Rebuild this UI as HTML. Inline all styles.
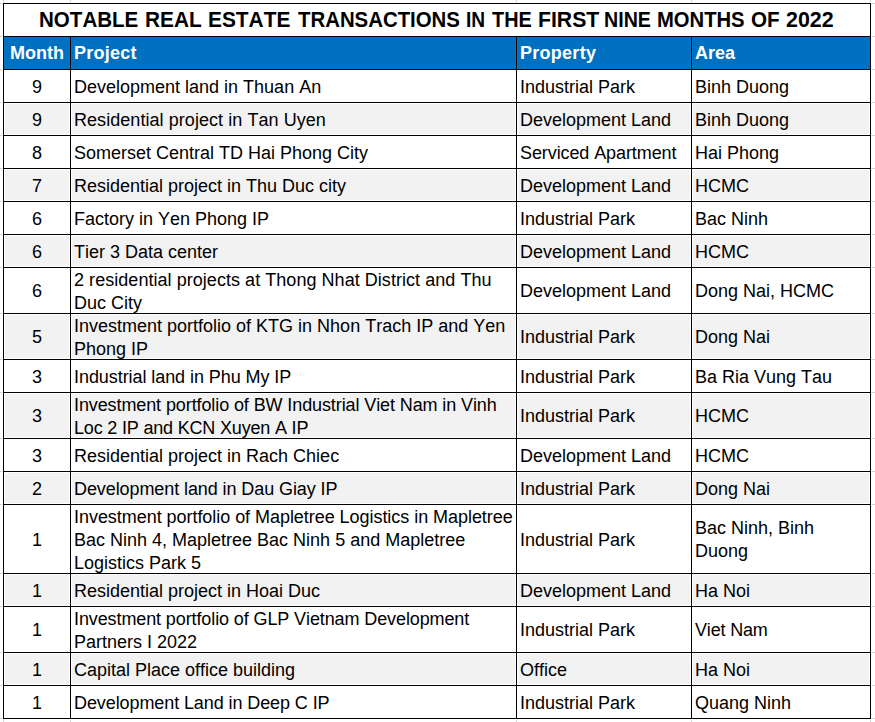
<!DOCTYPE html>
<html><head><meta charset="utf-8"><title>Notable real estate transactions</title>
<style>
*{margin:0;padding:0;box-sizing:border-box}
html,body{width:875px;height:722px;overflow:hidden;background:#fff}
body{position:relative;font-family:"Liberation Sans",Arial,sans-serif;color:#000;font-kerning:none;font-feature-settings:"kern" 0}
.a{position:absolute}
.h{position:absolute;height:1px;background:#000}
.v{position:absolute;width:1px;background:#000}
.g{position:absolute;background:#d4d4d4}
.c{position:absolute;display:flex;flex-direction:column;justify-content:center;font-size:18px;line-height:23px;white-space:nowrap;padding-left:3px;padding-top:2px}
.c span{display:block}
.m{align-items:center;padding-left:0}
.sh{position:absolute;background:#f2f2f2;}
.bl{position:absolute;background:#0070c0;}
.hd{color:#fff;font-weight:bold;padding-top:0}
.t2{position:absolute;left:0;top:4px;width:875px;height:32px;font-weight:bold;font-size:21.4px;line-height:32px;white-space:nowrap}
.tw{position:absolute;top:0;transform-origin:0 0}
</style></head>
<body>
<div class="g" style="left:3px;top:0;width:1px;height:2px"></div>
<div class="g" style="left:3px;top:2px;width:1px;height:1px;background:#ececec"></div>
<div class="g" style="left:70px;top:0;width:1px;height:2px"></div>
<div class="g" style="left:70px;top:2px;width:1px;height:1px;background:#ececec"></div>
<div class="g" style="left:516px;top:0;width:1px;height:2px"></div>
<div class="g" style="left:516px;top:2px;width:1px;height:1px;background:#ececec"></div>
<div class="g" style="left:691px;top:0;width:1px;height:2px"></div>
<div class="g" style="left:691px;top:2px;width:1px;height:1px;background:#ececec"></div>
<div class="g" style="left:870px;top:0;width:1px;height:2px"></div>
<div class="g" style="left:870px;top:2px;width:1px;height:1px;background:#ececec"></div>
<div class="g" style="left:0;top:3px;width:2px;height:1px"></div>
<div class="g" style="left:2px;top:3px;width:1px;height:1px;background:#ececec"></div>
<div class="g" style="left:0;top:36px;width:2px;height:1px"></div>
<div class="g" style="left:2px;top:36px;width:1px;height:1px;background:#ececec"></div>
<div class="g" style="left:0;top:69px;width:2px;height:1px"></div>
<div class="g" style="left:2px;top:69px;width:1px;height:1px;background:#ececec"></div>
<div class="g" style="left:0;top:102px;width:2px;height:1px"></div>
<div class="g" style="left:2px;top:102px;width:1px;height:1px;background:#ececec"></div>
<div class="g" style="left:0;top:135px;width:2px;height:1px"></div>
<div class="g" style="left:2px;top:135px;width:1px;height:1px;background:#ececec"></div>
<div class="g" style="left:0;top:168px;width:2px;height:1px"></div>
<div class="g" style="left:2px;top:168px;width:1px;height:1px;background:#ececec"></div>
<div class="g" style="left:0;top:201px;width:2px;height:1px"></div>
<div class="g" style="left:2px;top:201px;width:1px;height:1px;background:#ececec"></div>
<div class="g" style="left:0;top:234px;width:2px;height:1px"></div>
<div class="g" style="left:2px;top:234px;width:1px;height:1px;background:#ececec"></div>
<div class="g" style="left:0;top:267px;width:2px;height:1px"></div>
<div class="g" style="left:2px;top:267px;width:1px;height:1px;background:#ececec"></div>
<div class="g" style="left:0;top:313px;width:2px;height:1px"></div>
<div class="g" style="left:2px;top:313px;width:1px;height:1px;background:#ececec"></div>
<div class="g" style="left:0;top:359px;width:2px;height:1px"></div>
<div class="g" style="left:2px;top:359px;width:1px;height:1px;background:#ececec"></div>
<div class="g" style="left:0;top:392px;width:2px;height:1px"></div>
<div class="g" style="left:2px;top:392px;width:1px;height:1px;background:#ececec"></div>
<div class="g" style="left:0;top:438px;width:2px;height:1px"></div>
<div class="g" style="left:2px;top:438px;width:1px;height:1px;background:#ececec"></div>
<div class="g" style="left:0;top:471px;width:2px;height:1px"></div>
<div class="g" style="left:2px;top:471px;width:1px;height:1px;background:#ececec"></div>
<div class="g" style="left:0;top:504px;width:2px;height:1px"></div>
<div class="g" style="left:2px;top:504px;width:1px;height:1px;background:#ececec"></div>
<div class="g" style="left:0;top:573px;width:2px;height:1px"></div>
<div class="g" style="left:2px;top:573px;width:1px;height:1px;background:#ececec"></div>
<div class="g" style="left:0;top:606px;width:2px;height:1px"></div>
<div class="g" style="left:2px;top:606px;width:1px;height:1px;background:#ececec"></div>
<div class="g" style="left:0;top:652px;width:2px;height:1px"></div>
<div class="g" style="left:2px;top:652px;width:1px;height:1px;background:#ececec"></div>
<div class="g" style="left:0;top:685px;width:2px;height:1px"></div>
<div class="g" style="left:2px;top:685px;width:1px;height:1px;background:#ececec"></div>
<div class="g" style="left:0;top:718px;width:2px;height:1px"></div>
<div class="g" style="left:2px;top:718px;width:1px;height:1px;background:#ececec"></div>
<div class="g" style="left:872px;top:3px;width:3px;height:1px"></div>
<div class="g" style="left:871px;top:3px;width:1px;height:1px;background:#ececec"></div>
<div class="g" style="left:872px;top:36px;width:3px;height:1px"></div>
<div class="g" style="left:871px;top:36px;width:1px;height:1px;background:#ececec"></div>
<div class="g" style="left:872px;top:69px;width:3px;height:1px"></div>
<div class="g" style="left:871px;top:69px;width:1px;height:1px;background:#ececec"></div>
<div class="g" style="left:872px;top:102px;width:3px;height:1px"></div>
<div class="g" style="left:871px;top:102px;width:1px;height:1px;background:#ececec"></div>
<div class="g" style="left:872px;top:135px;width:3px;height:1px"></div>
<div class="g" style="left:871px;top:135px;width:1px;height:1px;background:#ececec"></div>
<div class="g" style="left:872px;top:168px;width:3px;height:1px"></div>
<div class="g" style="left:871px;top:168px;width:1px;height:1px;background:#ececec"></div>
<div class="g" style="left:872px;top:201px;width:3px;height:1px"></div>
<div class="g" style="left:871px;top:201px;width:1px;height:1px;background:#ececec"></div>
<div class="g" style="left:872px;top:234px;width:3px;height:1px"></div>
<div class="g" style="left:871px;top:234px;width:1px;height:1px;background:#ececec"></div>
<div class="g" style="left:872px;top:267px;width:3px;height:1px"></div>
<div class="g" style="left:871px;top:267px;width:1px;height:1px;background:#ececec"></div>
<div class="g" style="left:872px;top:313px;width:3px;height:1px"></div>
<div class="g" style="left:871px;top:313px;width:1px;height:1px;background:#ececec"></div>
<div class="g" style="left:872px;top:359px;width:3px;height:1px"></div>
<div class="g" style="left:871px;top:359px;width:1px;height:1px;background:#ececec"></div>
<div class="g" style="left:872px;top:392px;width:3px;height:1px"></div>
<div class="g" style="left:871px;top:392px;width:1px;height:1px;background:#ececec"></div>
<div class="g" style="left:872px;top:438px;width:3px;height:1px"></div>
<div class="g" style="left:871px;top:438px;width:1px;height:1px;background:#ececec"></div>
<div class="g" style="left:872px;top:471px;width:3px;height:1px"></div>
<div class="g" style="left:871px;top:471px;width:1px;height:1px;background:#ececec"></div>
<div class="g" style="left:872px;top:504px;width:3px;height:1px"></div>
<div class="g" style="left:871px;top:504px;width:1px;height:1px;background:#ececec"></div>
<div class="g" style="left:872px;top:573px;width:3px;height:1px"></div>
<div class="g" style="left:871px;top:573px;width:1px;height:1px;background:#ececec"></div>
<div class="g" style="left:872px;top:606px;width:3px;height:1px"></div>
<div class="g" style="left:871px;top:606px;width:1px;height:1px;background:#ececec"></div>
<div class="g" style="left:872px;top:652px;width:3px;height:1px"></div>
<div class="g" style="left:871px;top:652px;width:1px;height:1px;background:#ececec"></div>
<div class="g" style="left:872px;top:685px;width:3px;height:1px"></div>
<div class="g" style="left:871px;top:685px;width:1px;height:1px;background:#ececec"></div>
<div class="g" style="left:872px;top:718px;width:3px;height:1px"></div>
<div class="g" style="left:871px;top:718px;width:1px;height:1px;background:#ececec"></div>
<div class="g" style="left:3px;top:720px;width:1px;height:2px"></div>
<div class="g" style="left:3px;top:719px;width:1px;height:1px;background:#ececec"></div>
<div class="g" style="left:70px;top:720px;width:1px;height:2px"></div>
<div class="g" style="left:70px;top:719px;width:1px;height:1px;background:#ececec"></div>
<div class="g" style="left:516px;top:720px;width:1px;height:2px"></div>
<div class="g" style="left:516px;top:719px;width:1px;height:1px;background:#ececec"></div>
<div class="g" style="left:691px;top:720px;width:1px;height:2px"></div>
<div class="g" style="left:691px;top:719px;width:1px;height:1px;background:#ececec"></div>
<div class="g" style="left:870px;top:720px;width:1px;height:2px"></div>
<div class="g" style="left:870px;top:719px;width:1px;height:1px;background:#ececec"></div>
<div class="a" style="left:4px;top:37px;width:866px;height:32px;background:#0375c9"></div>
<div class="bl" style="left:5px;top:38px;width:64px;height:30px"></div>
<div class="bl" style="left:72px;top:38px;width:443px;height:30px"></div>
<div class="bl" style="left:518px;top:38px;width:172px;height:30px"></div>
<div class="bl" style="left:693px;top:38px;width:176px;height:30px"></div>
<div class="sh" style="left:5px;top:104px;width:64px;height:30px"></div>
<div class="sh" style="left:72px;top:104px;width:443px;height:30px"></div>
<div class="sh" style="left:518px;top:104px;width:172px;height:30px"></div>
<div class="sh" style="left:693px;top:104px;width:176px;height:30px"></div>
<div class="sh" style="left:5px;top:170px;width:64px;height:30px"></div>
<div class="sh" style="left:72px;top:170px;width:443px;height:30px"></div>
<div class="sh" style="left:518px;top:170px;width:172px;height:30px"></div>
<div class="sh" style="left:693px;top:170px;width:176px;height:30px"></div>
<div class="sh" style="left:5px;top:236px;width:64px;height:30px"></div>
<div class="sh" style="left:72px;top:236px;width:443px;height:30px"></div>
<div class="sh" style="left:518px;top:236px;width:172px;height:30px"></div>
<div class="sh" style="left:693px;top:236px;width:176px;height:30px"></div>
<div class="sh" style="left:5px;top:315px;width:64px;height:43px"></div>
<div class="sh" style="left:72px;top:315px;width:443px;height:43px"></div>
<div class="sh" style="left:518px;top:315px;width:172px;height:43px"></div>
<div class="sh" style="left:693px;top:315px;width:176px;height:43px"></div>
<div class="sh" style="left:5px;top:394px;width:64px;height:43px"></div>
<div class="sh" style="left:72px;top:394px;width:443px;height:43px"></div>
<div class="sh" style="left:518px;top:394px;width:172px;height:43px"></div>
<div class="sh" style="left:693px;top:394px;width:176px;height:43px"></div>
<div class="sh" style="left:5px;top:473px;width:64px;height:30px"></div>
<div class="sh" style="left:72px;top:473px;width:443px;height:30px"></div>
<div class="sh" style="left:518px;top:473px;width:172px;height:30px"></div>
<div class="sh" style="left:693px;top:473px;width:176px;height:30px"></div>
<div class="sh" style="left:5px;top:575px;width:64px;height:30px"></div>
<div class="sh" style="left:72px;top:575px;width:443px;height:30px"></div>
<div class="sh" style="left:518px;top:575px;width:172px;height:30px"></div>
<div class="sh" style="left:693px;top:575px;width:176px;height:30px"></div>
<div class="sh" style="left:5px;top:654px;width:64px;height:30px"></div>
<div class="sh" style="left:72px;top:654px;width:443px;height:30px"></div>
<div class="sh" style="left:518px;top:654px;width:172px;height:30px"></div>
<div class="sh" style="left:693px;top:654px;width:176px;height:30px"></div>
<div class="h" style="left:3px;top:3px;width:868px"></div>
<div class="h" style="left:3px;top:36px;width:868px"></div>
<div class="h" style="left:3px;top:69px;width:868px"></div>
<div class="h" style="left:3px;top:102px;width:868px"></div>
<div class="h" style="left:3px;top:135px;width:868px"></div>
<div class="h" style="left:3px;top:168px;width:868px"></div>
<div class="h" style="left:3px;top:201px;width:868px"></div>
<div class="h" style="left:3px;top:234px;width:868px"></div>
<div class="h" style="left:3px;top:267px;width:868px"></div>
<div class="h" style="left:3px;top:313px;width:868px"></div>
<div class="h" style="left:3px;top:359px;width:868px"></div>
<div class="h" style="left:3px;top:392px;width:868px"></div>
<div class="h" style="left:3px;top:438px;width:868px"></div>
<div class="h" style="left:3px;top:471px;width:868px"></div>
<div class="h" style="left:3px;top:504px;width:868px"></div>
<div class="h" style="left:3px;top:573px;width:868px"></div>
<div class="h" style="left:3px;top:606px;width:868px"></div>
<div class="h" style="left:3px;top:652px;width:868px"></div>
<div class="h" style="left:3px;top:685px;width:868px"></div>
<div class="h" style="left:3px;top:718px;width:868px"></div>
<div class="v" style="left:3px;top:3px;height:716px"></div>
<div class="v" style="left:70px;top:36px;height:683px"></div>
<div class="v" style="left:516px;top:36px;height:683px"></div>
<div class="v" style="left:691px;top:36px;height:683px"></div>
<div class="v" style="left:870px;top:3px;height:716px"></div>
<div class="t2"><span class="tw" style="left:39.00px;transform:scaleX(0.9608)">NOTABLE</span> <span class="tw" style="left:145.00px;transform:scaleX(0.9738)">REAL</span> <span class="tw" style="left:208.00px;transform:scaleX(0.9759)">ESTATE</span> <span class="tw" style="left:298.00px;transform:scaleX(0.9527)">TRANSACTIONS</span> <span class="tw" style="left:465.60px;transform:scaleX(0.8959)">IN</span> <span class="tw" style="left:492.00px;transform:scaleX(0.9286)">THE</span> <span class="tw" style="left:538.00px;transform:scaleX(0.9921)">FIRST</span> <span class="tw" style="left:604.00px;transform:scaleX(0.9184)">NINE</span> <span class="tw" style="left:657.00px;transform:scaleX(0.9451)">MONTHS</span> <span class="tw" style="left:750.80px;transform:scaleX(0.9648)">OF</span> <span class="tw" style="left:785.60px;transform:scaleX(1.0003)">2022</span></div>
<div class="c hd m" style="left:4px;top:37px;width:66px;height:32px"><span>Month</span></div>
<div class="c hd" style="left:71px;top:37px;width:445px;height:32px"><span style="letter-spacing:0.250px">Project</span></div>
<div class="c hd" style="left:517px;top:37px;width:174px;height:32px"><span style="letter-spacing:0.271px">Property</span></div>
<div class="c hd" style="left:692px;top:37px;width:178px;height:32px"><span>Area</span></div>
<div class="c m" style="left:4px;top:70px;width:66px;height:32px"><span>9</span></div>
<div class="c " style="left:71px;top:70px;width:445px;height:32px"><span>Development land in Thuan An</span></div>
<div class="c " style="left:517px;top:70px;width:174px;height:32px"><span>Industrial Park</span></div>
<div class="c " style="left:692px;top:70px;width:178px;height:32px"><span>Binh Duong</span></div>
<div class="c m" style="left:4px;top:103px;width:66px;height:32px"><span>9</span></div>
<div class="c " style="left:71px;top:103px;width:445px;height:32px"><span style="letter-spacing:0.057px">Residential project in Tan Uyen</span></div>
<div class="c " style="left:517px;top:103px;width:174px;height:32px"><span>Development Land</span></div>
<div class="c " style="left:692px;top:103px;width:178px;height:32px"><span>Binh Duong</span></div>
<div class="c m" style="left:4px;top:136px;width:66px;height:32px"><span>8</span></div>
<div class="c " style="left:71px;top:136px;width:445px;height:32px"><span>Somerset Central TD Hai Phong City</span></div>
<div class="c " style="left:517px;top:136px;width:174px;height:32px"><span style="letter-spacing:-0.094px">Serviced Apartment</span></div>
<div class="c " style="left:692px;top:136px;width:178px;height:32px"><span>Hai Phong</span></div>
<div class="c m" style="left:4px;top:169px;width:66px;height:32px"><span>7</span></div>
<div class="c " style="left:71px;top:169px;width:445px;height:32px"><span>Residential project in Thu Duc city</span></div>
<div class="c " style="left:517px;top:169px;width:174px;height:32px"><span>Development Land</span></div>
<div class="c " style="left:692px;top:169px;width:178px;height:32px"><span>HCMC</span></div>
<div class="c m" style="left:4px;top:202px;width:66px;height:32px"><span>6</span></div>
<div class="c " style="left:71px;top:202px;width:445px;height:32px"><span>Factory in Yen Phong IP</span></div>
<div class="c " style="left:517px;top:202px;width:174px;height:32px"><span>Industrial Park</span></div>
<div class="c " style="left:692px;top:202px;width:178px;height:32px"><span>Bac Ninh</span></div>
<div class="c m" style="left:4px;top:235px;width:66px;height:32px"><span>6</span></div>
<div class="c " style="left:71px;top:235px;width:445px;height:32px"><span>Tier 3 Data center</span></div>
<div class="c " style="left:517px;top:235px;width:174px;height:32px"><span>Development Land</span></div>
<div class="c " style="left:692px;top:235px;width:178px;height:32px"><span>HCMC</span></div>
<div class="c m" style="left:4px;top:268px;width:66px;height:45px"><span>6</span></div>
<div class="c " style="left:71px;top:268px;width:445px;height:45px"><span style="letter-spacing:0.044px">2 residential projects at Thong Nhat District and Thu</span><span>Duc City</span></div>
<div class="c " style="left:517px;top:268px;width:174px;height:45px"><span>Development Land</span></div>
<div class="c " style="left:692px;top:268px;width:178px;height:45px"><span>Dong Nai, HCMC</span></div>
<div class="c m" style="left:4px;top:314px;width:66px;height:45px"><span>5</span></div>
<div class="c " style="left:71px;top:314px;width:445px;height:45px"><span>Investment portfolio of KTG in Nhon Trach IP and Yen</span><span>Phong IP</span></div>
<div class="c " style="left:517px;top:314px;width:174px;height:45px"><span>Industrial Park</span></div>
<div class="c " style="left:692px;top:314px;width:178px;height:45px"><span>Dong Nai</span></div>
<div class="c m" style="left:4px;top:360px;width:66px;height:32px"><span>3</span></div>
<div class="c " style="left:71px;top:360px;width:445px;height:32px"><span style="letter-spacing:-0.067px">Industrial land in Phu My IP</span></div>
<div class="c " style="left:517px;top:360px;width:174px;height:32px"><span>Industrial Park</span></div>
<div class="c " style="left:692px;top:360px;width:178px;height:32px"><span>Ba Ria Vung Tau</span></div>
<div class="c m" style="left:4px;top:393px;width:66px;height:45px"><span>3</span></div>
<div class="c " style="left:71px;top:393px;width:445px;height:45px"><span style="letter-spacing:-0.102px">Investment portfolio of BW Industrial Viet Nam in Vinh</span><span style="letter-spacing:-0.181px">Loc 2 IP and KCN Xuyen A IP</span></div>
<div class="c " style="left:517px;top:393px;width:174px;height:45px"><span>Industrial Park</span></div>
<div class="c " style="left:692px;top:393px;width:178px;height:45px"><span>HCMC</span></div>
<div class="c m" style="left:4px;top:439px;width:66px;height:32px"><span>3</span></div>
<div class="c " style="left:71px;top:439px;width:445px;height:32px"><span>Residential project in Rach Chiec</span></div>
<div class="c " style="left:517px;top:439px;width:174px;height:32px"><span>Development Land</span></div>
<div class="c " style="left:692px;top:439px;width:178px;height:32px"><span>HCMC</span></div>
<div class="c m" style="left:4px;top:472px;width:66px;height:32px"><span>2</span></div>
<div class="c " style="left:71px;top:472px;width:445px;height:32px"><span style="letter-spacing:-0.087px">Development land in Dau Giay IP</span></div>
<div class="c " style="left:517px;top:472px;width:174px;height:32px"><span>Industrial Park</span></div>
<div class="c " style="left:692px;top:472px;width:178px;height:32px"><span>Dong Nai</span></div>
<div class="c m" style="left:4px;top:505px;width:66px;height:68px"><span>1</span></div>
<div class="c " style="left:71px;top:505px;width:445px;height:68px"><span style="letter-spacing:-0.045px">Investment portfolio of Mapletree Logistics in Mapletree</span><span>Bac Ninh 4, Mapletree Bac Ninh 5 and Mapletree</span><span>Logistics Park 5</span></div>
<div class="c " style="left:517px;top:505px;width:174px;height:68px"><span>Industrial Park</span></div>
<div class="c " style="left:692px;top:505px;width:178px;height:68px"><span>Bac Ninh, Binh</span><span>Duong</span></div>
<div class="c m" style="left:4px;top:574px;width:66px;height:32px"><span>1</span></div>
<div class="c " style="left:71px;top:574px;width:445px;height:32px"><span>Residential project in Hoai Duc</span></div>
<div class="c " style="left:517px;top:574px;width:174px;height:32px"><span>Development Land</span></div>
<div class="c " style="left:692px;top:574px;width:178px;height:32px"><span>Ha Noi</span></div>
<div class="c m" style="left:4px;top:607px;width:66px;height:45px"><span>1</span></div>
<div class="c " style="left:71px;top:607px;width:445px;height:45px"><span style="letter-spacing:-0.107px">Investment portfolio of GLP Vietnam Development</span><span>Partners I 2022</span></div>
<div class="c " style="left:517px;top:607px;width:174px;height:45px"><span>Industrial Park</span></div>
<div class="c " style="left:692px;top:607px;width:178px;height:45px"><span style="letter-spacing:-0.171px">Viet Nam</span></div>
<div class="c m" style="left:4px;top:653px;width:66px;height:32px"><span>1</span></div>
<div class="c " style="left:71px;top:653px;width:445px;height:32px"><span>Capital Place office building</span></div>
<div class="c " style="left:517px;top:653px;width:174px;height:32px"><span>Office</span></div>
<div class="c " style="left:692px;top:653px;width:178px;height:32px"><span>Ha Noi</span></div>
<div class="c m" style="left:4px;top:686px;width:66px;height:32px"><span>1</span></div>
<div class="c " style="left:71px;top:686px;width:445px;height:32px"><span style="letter-spacing:-0.093px">Development Land in Deep C IP</span></div>
<div class="c " style="left:517px;top:686px;width:174px;height:32px"><span>Industrial Park</span></div>
<div class="c " style="left:692px;top:686px;width:178px;height:32px"><span>Quang Ninh</span></div>
</body></html>
